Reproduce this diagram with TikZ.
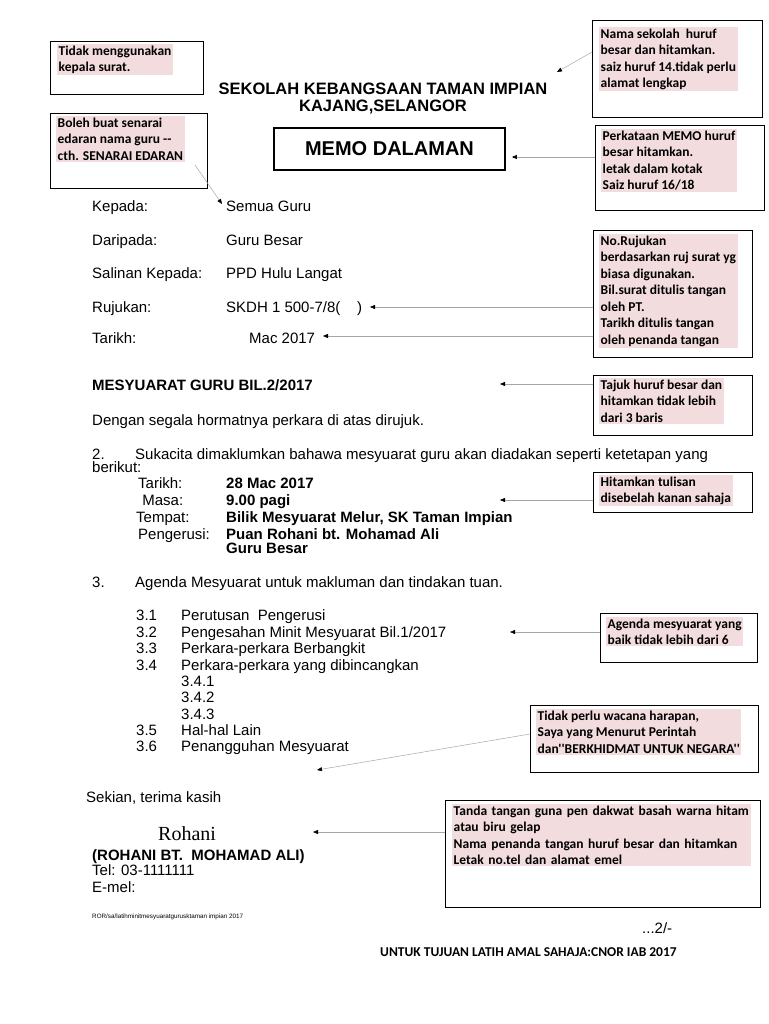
\documentclass[tikz,border=0pt]{standalone}
\usepackage{fontspec}
\setmainfont{Liberation Sans}
\newfontfamily\calfnt{Carlito}
\newfontfamily\serifr{Liberation Serif}
\usetikzlibrary{arrows.meta}
\definecolor{pinkhl}{RGB}{242,220,221}
\begin{document}
\begin{tikzpicture}[x=1pt,y=-1pt,
  tx/.style={anchor=base west,inner sep=0pt,font=\fontsize{15}{17}\selectfont},
  bx/.style={anchor=base west,inner sep=0pt,font=\fontsize{15}{17}\selectfont\bfseries},
  callbox/.style={draw,line width=0.8pt,inner sep=0pt},
  note/.style={anchor=north west,fill=pinkhl,inner sep=1.5pt,align=left,font=\calfnt\bfseries\fontsize{13.5}{16.5}\selectfont},
  arr/.style={draw=gray!70,line width=0.5pt,-{Triangle[length=5pt,width=4pt,black]}}]
\useasboundingbox (0,0) rectangle (768,1024);
% callout boxes
\draw[callbox] (50,41) rectangle (203,94); \node[note] (n1) at (57,44) {Tidak menggunakan\\kepala surat.};
\draw[callbox] (592,20) rectangle (762,117); \node[note] (n2) at (599,27) {Nama sekolah\ \ huruf\\besar dan hitamkan.\\saiz huruf 14.tidak perlu\\alamat lengkap};
\draw[callbox] (50,113) rectangle (207,188); \node[note] (n3) at (56,116) {Boleh buat senarai\\edaran nama guru --\\cth. SENARAI EDARAN};
\node[draw,line width=1.8pt,minimum width=231pt,minimum height=42pt,inner sep=0pt,font=\fontsize{20}{22}\selectfont\bfseries] (memo) at (389.5,149) {MEMO DALAMAN};
\draw[callbox] (595,125) rectangle (764,210); \node[note] (n5) at (601,129) {Perkataan MEMO huruf\\besar hitamkan.\\letak dalam kotak\\Saiz huruf 16/18};
\draw[callbox] (593,230) rectangle (752,357); \node[note] (n6) at (599,234) {No.Rujukan\\berdasarkan ruj surat yg\\biasa digunakan.\\Bil.surat ditulis tangan\\oleh PT.\\Tarikh ditulis tangan\\oleh penanda tangan};
\draw[callbox] (593,375) rectangle (752,435); \node[note] (n7) at (599,378) {Tajuk huruf besar dan\\hitamkan tidak lebih\\dari 3 baris};
\draw[callbox] (593,472) rectangle (752,512); \node[note] (n8) at (599,475) {Hitamkan tulisan\\disebelah kanan sahaja};
\draw[callbox] (600,613) rectangle (757,662); \node[note] (n9) at (606,617) {Agenda mesyuarat yang\\baik tidak lebih dari 6};
\draw[callbox] (530,705) rectangle (758,772); \node[note] (n10) at (536,709) {Tidak perlu wacana harapan,\\Saya yang Menurut Perintah\\dan''BERKHIDMAT UNTUK NEGARA''};
\draw[callbox] (445,800) rectangle (760,907); \node[note,text width=296pt] (n11) at (452,804) {Tanda tangan guna pen dakwat basah warna hitam\\atau biru gelap\\Nama penanda tangan huruf besar dan hitamkan\\Letak no.tel dan alamat emel};
% title
\node[font=\fontsize{16.5}{17}\selectfont\bfseries,align=center,inner sep=0pt] (title) at (383,99) {SEKOLAH KEBANGSAAN TAMAN IMPIAN\\KAJANG,SELANGOR};
% body
\node[tx] (k1) at (92,212) {Kepada:}; \node[tx] (v1) at (226,212) {Semua Guru};
\node[tx] (k2) at (92,245) {Daripada:}; \node[tx] (v2) at (226,245) {Guru Besar};
\node[tx] (k3) at (92,278) {Salinan Kepada:}; \node[tx] (v3) at (226,278) {PPD Hulu Langat};
\node[tx] (k4) at (92,312) {Rujukan:}; \node[tx] (v4) at (226,312) {SKDH 1 500-7/8(\ \ \ \ )};
\node[tx] (k5) at (92,343) {Tarikh:}; \node[tx] (v5) at (249,343) {Mac 2017};
\node[bx] (tajuk) at (92,390) {MESYUARAT GURU BIL.2/2017};
\node[tx] (p1) at (92,425) {Dengan segala hormatnya perkara di atas dirujuk.};
\node[tx] (p2n) at (92,459) {2.}; \node[tx] (p2) at (135,459) {Sukacita dimaklumkan bahawa mesyuarat guru akan diadakan seperti ketetapan yang};
\node[tx] (p2b) at (92,472) {berikut:};
\node[tx] (d1) at (138,488) {Tarikh:}; \node[bx] (e1) at (226,488) {28 Mac 2017};
\node[tx] (d2) at (138,505) {\ Masa:}; \node[bx] (e2) at (226,505) {9.00 pagi};
\node[tx] (d3) at (136,522) {Tempat:}; \node[bx] (e3) at (226,522) {Bilik Mesyuarat Melur, SK Taman Impian};
\node[tx] (d4) at (138,539) {Pengerusi:}; \node[bx] (e4) at (226,539) {Puan Rohani bt. Mohamad Ali};
\node[bx] (e5) at (226,553) {Guru Besar};
\node[tx] (p3n) at (92,587) {3.}; \node[tx] (p3) at (135,587) {Agenda Mesyuarat untuk makluman dan tindakan tuan.};
\foreach \n/\t/\y in {1/Perutusan\ \ Pengerusi/620,2/Pengesahan Minit Mesyuarat Bil.1\slash 2017/637,3/Perkara-perkara Berbangkit/653,4/Perkara-perkara yang dibincangkan/670,5/Hal-hal Lain/735,6/Penangguhan Mesyuarat/751}{
  \node[tx] (a\n) at (136,\y) {3.\n}; \node[tx] (b\n) at (181,\y) {\t};}
\foreach \n/\y in {1/686,2/702,3/719}{\node[tx] (s\n) at (181,\y) {3.4.\n};}
\node[tx] (sek) at (86,802) {Sekian, terima kasih};
\node[anchor=base west,inner sep=0pt,font=\serifr\fontsize{20}{22}\selectfont] (sig) at (158,840) {Rohani};
\node[bx] (nm) at (92,860) {(ROHANI BT.\ \ MOHAMAD ALI)};
\node[tx] (tel) at (92,875) {Tel: 03-1111111};
\node[tx] (eml) at (92,892) {E-mel:};
\node[anchor=base west,inner sep=0pt,font=\fontsize{6.3}{7}\selectfont] (ror) at (92,918) {ROR/sa/latihminitmesyuaratgurusktaman impian 2017};
\node[tx] (pg) at (642,933) {...2/-};
\node[anchor=base west,inner sep=0pt,font=\calfnt\bfseries\fontsize{13.5}{15}\selectfont] (untuk) at (380,956) {UNTUK TUJUAN LATIH AMAL SAHAJA:CNOR IAB 2017};
% arrows
\coordinate (t2) at (557,72); \draw[arr] (592,52) -- (t2);
\coordinate (t3) at (222,204); \draw[arr] (195,165) -- (t3);
\draw[arr] (595,157) -- ([xshift=6pt,yshift=-8pt]memo.east);
\coordinate (t6a) at (370,307); \draw[arr] (593,307) -- (t6a);
\coordinate (t6b) at (323,336); \draw[arr] (593,336) -- (t6b);
\coordinate (t7) at (500,384); \draw[arr] (593,384) -- (t7);
\coordinate (t8) at (500,500); \draw[arr] (593,500) -- (t8);
\coordinate (t9) at (510,632); \draw[arr] (600,632) -- (t9);
\coordinate (t10) at (317,770); \draw[arr] (530,734) -- (t10);
\coordinate (t11) at (313,832); \draw[arr] (445,832) -- (t11);
\end{tikzpicture}
\end{document}
